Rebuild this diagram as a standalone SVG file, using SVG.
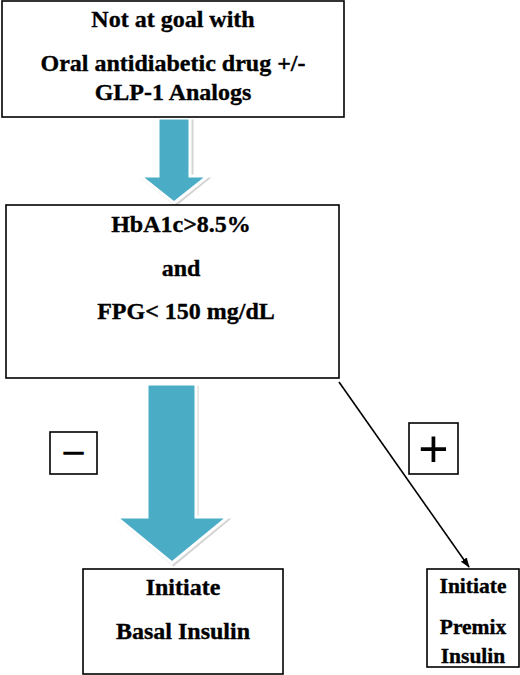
<svg xmlns="http://www.w3.org/2000/svg" width="520" height="675" viewBox="0 0 520 675">
<style>
.box{fill:#fff;stroke:#000;stroke-width:1.6}
.t{font-family:"Liberation Serif","Times New Roman",serif;font-weight:bold;font-size:24px;text-anchor:middle;fill:#000;stroke:#000;stroke-width:0.35}
.ts{font-family:"Liberation Serif","Times New Roman",serif;font-weight:bold;font-size:21.5px;text-anchor:middle;fill:#000;stroke:#000;stroke-width:0.35}
.sg{font-family:"Liberation Sans",Arial,sans-serif;text-anchor:middle;fill:#000}
.arr{fill:#4BACC6;stroke:#fff;stroke-width:3;stroke-linejoin:miter}
.sh{fill:#d4d4d4}
</style>
<defs>
<marker id="ah" markerWidth="10" markerHeight="10" refX="9" refY="5" orient="auto" markerUnits="userSpaceOnUse">
<path d="M0,1.5 L10,5 L0,8.5 Z" fill="#000"/>
</marker>
</defs>
<rect width="520" height="675" fill="#fff"/>
<g id="connectors">
<g id="arrow1">
<polygon class="sh" points="158,118 192,118 192,176 210,176 174,205 138,176 158,176" transform="translate(1.5,1.5)"/>
<polygon class="arr" points="158,118 190,118 190,176 208,176 174,203 140,176 158,176"/>
</g>
<g id="arrow2">
<polygon class="sh" points="147,384 197,384 197,517 230,517 172,565 114,517 147,517" transform="translate(1.5,1.5)"/>
<polygon class="arr" points="147,384 196,384 196,517 228,517 172,563 116,517 147,517"/>
</g>
<line x1="339" y1="382" x2="469" y2="567" stroke="#000" stroke-width="1.6" marker-end="url(#ah)"/>
</g>
<g id="node-start">
<rect class="box" x="2" y="1" width="342" height="116"/>
<text class="t" x="173" y="27">Not at goal with</text>
<text class="t" x="173" y="71">Oral antidiabetic drug +/-</text>
<text class="t" x="173" y="100">GLP-1 Analogs</text>
</g>
<g id="node-criteria">
<rect class="box" x="6" y="205" width="333" height="173"/>
<text class="t" x="181" y="232">HbA1c&gt;8.5%</text>
<text class="t" x="181" y="276">and</text>
<text class="t" x="186" y="319">FPG&lt; 150 mg/dL</text>
</g>
<g id="label-minus">
<rect class="box" x="50" y="432" width="47" height="42"/>
<text class="sg" x="73.5" y="467" font-size="42">−</text>
</g>
<g id="label-plus">
<rect class="box" x="409" y="423" width="49" height="51"/>
<text class="sg" x="433.5" y="467" font-size="52">+</text>
</g>
<g id="node-basal">
<rect class="box" x="83" y="569" width="200" height="105"/>
<text class="t" x="183" y="595">Initiate</text>
<text class="t" x="183" y="639">Basal Insulin</text>
</g>
<g id="node-premix">
<rect class="box" x="427" y="569" width="92" height="98"/>
<text class="ts" x="473" y="593">Initiate</text>
<text class="ts" x="473" y="634">Premix</text>
<text class="ts" x="473" y="663">Insulin</text>
</g>
</svg>
